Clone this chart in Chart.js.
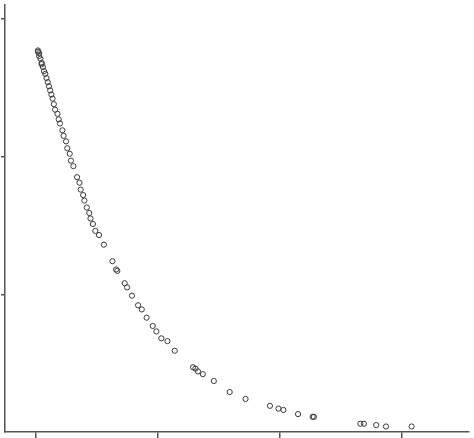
<!DOCTYPE html>
<html><head><meta charset="utf-8">
<script src="https://cdn.jsdelivr.net/npm/chart.js@4"></script>
<style>html,body{margin:0;padding:0;background:#fff}#w{width:474px;height:438px}</style>
</head><body><div id="w"><canvas id="c"></canvas></div>
<script>
const xValues = [0.02,0.02,0.03,0.03,0.04,0.05,0.05,0.06,0.07,0.08,0.09,0.10,0.11,0.12,0.13,0.14,0.15,0.16,0.18,0.19,0.20,0.22,0.23,0.25,0.26,0.28,0.29,0.31,
0.34,0.36,0.37,0.39,0.40,0.42,0.44,0.45,0.47,0.49,0.52,0.56,
0.63,0.66,0.67,0.73,0.75,0.79,0.84,0.87,0.91,0.96,0.99,1.03,1.08,1.14,1.29,1.31,1.33,1.37,1.46,1.59,1.72,1.92,1.99,2.03,2.15,2.27,2.28,2.66,2.69,2.79,2.87,3.08];
const yValues = [2.77,2.76,2.75,2.73,2.71,2.68,2.67,2.65,2.62,2.60,2.57,2.54,2.51,2.48,2.45,2.42,2.38,2.34,2.31,2.27,2.24,2.19,2.15,2.11,2.06,2.02,1.97,1.93,
1.85,1.81,1.76,1.72,1.68,1.63,1.59,1.55,1.51,1.46,1.43,1.36,
1.24,1.18,1.17,1.08,1.05,0.99,0.92,0.89,0.83,0.77,0.73,0.68,0.66,0.59,0.47,0.46,0.44,0.42,0.37,0.29,0.24,0.19,0.17,0.16,0.13,0.11,0.11,0.06,0.06,0.05,0.04,0.04];
const xTicks = [0,1,2,3];
const yTicks = [1,2,3];
const pts = xValues.map((x,i)=>({x, y:yValues[i]}));
const axisCol = '#555';
new Chart(document.getElementById('c'), {
  type:'scatter',
  data:{datasets:[{data:pts, pointRadius:2.6, pointBorderWidth:1, borderColor:'#3a3a3a', backgroundColor:'rgba(255,255,255,0)'}]},
  options:{
    responsive:true, maintainAspectRatio:false, animation:false,
    layout:{padding:0},
    plugins:{legend:{display:false}, tooltip:{enabled:false}},
    scales:{
      x:{type:'linear', min:-0.25, max:3.55,
        afterBuildTicks:s=>{s.ticks=xTicks.map(v=>({value:v}));},
        afterFit:s=>{s.height=6;},
        ticks:{display:false},
        grid:{drawOnChartArea:false, drawTicks:true, tickLength:6, color:axisCol, lineWidth:1.5},
        border:{color:axisCol, width:1.5}},
      y:{type:'linear', min:0, max:3.1,
        afterBuildTicks:s=>{s.ticks=yTicks.map(v=>({value:v}));},
        afterFit:s=>{s.width=4;},
        ticks:{display:false},
        grid:{drawOnChartArea:false, drawTicks:true, tickLength:4, color:axisCol, lineWidth:1.5},
        border:{color:axisCol, width:1.5}}
    }
  }
});
</script></body></html>
